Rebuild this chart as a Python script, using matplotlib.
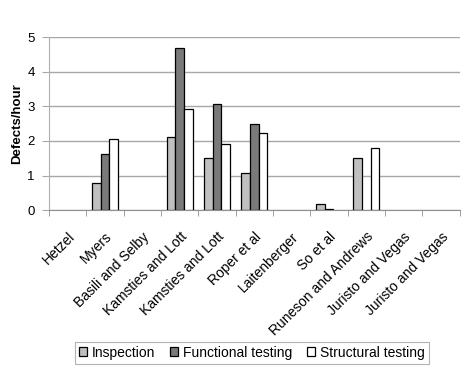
import matplotlib
matplotlib.use("Agg")
import matplotlib.pyplot as plt
import numpy as np

plt.rcParams['font.family'] = ['Liberation Sans', 'DejaVu Sans']

categories = ["Hetzel", "Myers", "Basili and Selby", "Kamsties and Lott", "Kamsties and Lott",
              "Roper et al", "Laitenberger", "So et al", "Runeson and Andrews",
              "Juristo and Vegas", "Juristo and Vegas"]
inspection = [np.nan, 0.79, np.nan, 2.12, 1.52, 1.06, np.nan, 0.17, 1.50, np.nan, np.nan]
functional = [np.nan, 1.62, np.nan, 4.69, 3.06, 2.49, np.nan, 0.04, np.nan, np.nan, np.nan]
structural = [np.nan, 2.06, np.nan, 2.92, 1.92, 2.22, np.nan, np.nan, 1.80, np.nan, np.nan]

fig = plt.figure(figsize=(4.74, 3.78), dpi=100)
ax = fig.add_axes([0.103, 0.444, 0.867, 0.458])

x = np.arange(len(categories))
w = 0.233
b1 = ax.bar(x - w, inspection, w, color='#c0c0c0', edgecolor='black', linewidth=0.9, label='Inspection', zorder=3)
b2 = ax.bar(x, functional, w, color='#7a7a7a', edgecolor='black', linewidth=0.9, label='Functional testing', zorder=3)
b3 = ax.bar(x + w, structural, w, color='white', edgecolor='black', linewidth=0.9, label='Structural testing', zorder=3)

ax.set_xlim(-0.5, len(categories) - 0.5)
ax.set_ylim(0, 5)
ax.set_yticks([0, 1, 2, 3, 4, 5])
ax.yaxis.grid(True, color='#a8a8a8', linewidth=1.0, zorder=0)
ax.set_axisbelow(True)
for s in ['top', 'right']:
    ax.spines[s].set_visible(False)
ax.spines['bottom'].set_color('#909090')
ax.spines['left'].set_color('#b0b0b0')
ax.tick_params(axis='y', length=5, color='#a8a8a8', labelsize=9.5, pad=5)

ax.set_xticks(x)
ax.set_xticklabels(categories, rotation=45, ha='right', rotation_mode='anchor', fontsize=10)
ax.tick_params(axis='x', length=0, pad=14)
ax.set_xticks(np.arange(-0.5, len(categories)), minor=True)
ax.tick_params(axis='x', which='minor', length=4, color='#909090', direction='out')

ax.set_ylabel('Defects/hour', fontsize=9.5, fontweight='bold', labelpad=3)

leg = fig.legend(handles=[b1, b2, b3], loc='center', bbox_to_anchor=(0.531, 0.067), ncol=3,
                 fontsize=10, frameon=True, fancybox=False, edgecolor='#a0a0a0',
                 handlelength=0.6, handleheight=0.6, handletextpad=0.3, columnspacing=1.1,
                 borderpad=0.3)
leg.get_frame().set_linewidth(0.8)

fig.savefig('out.png', dpi=100)
